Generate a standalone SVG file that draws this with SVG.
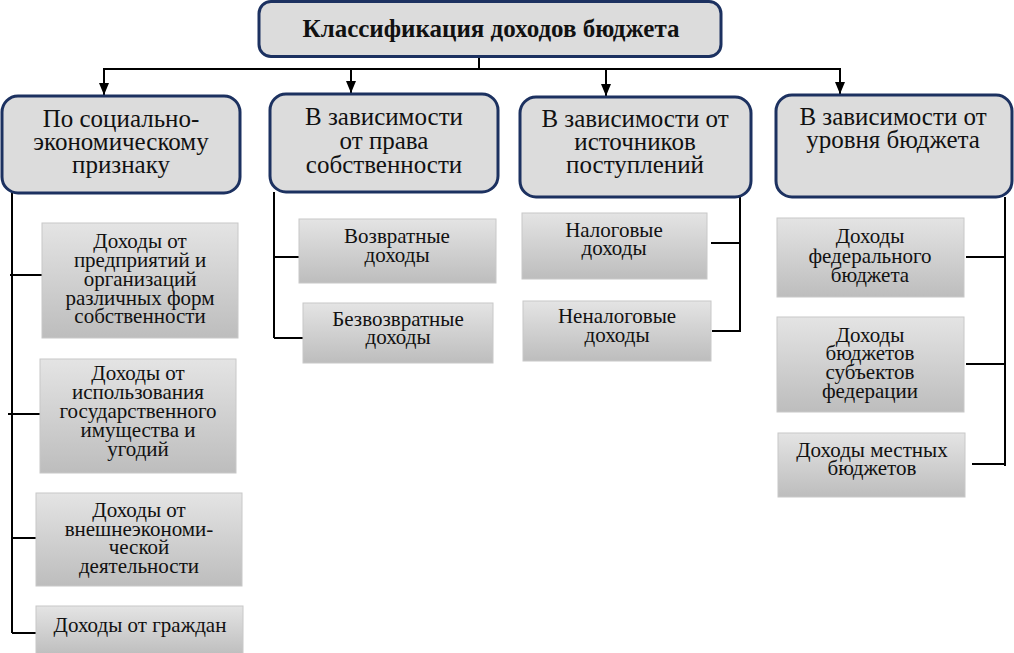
<svg xmlns="http://www.w3.org/2000/svg" width="1014" height="653" viewBox="0 0 1014 653">
<style>
.cat{fill:#DCDCDC;stroke:#1C3160;stroke-width:3}
.sub{fill:url(#g);stroke:#C8C8C8;stroke-width:1}
.t{font-family:"Liberation Serif","Times New Roman","DejaVu Serif",serif;fill:#111;text-anchor:middle}
.ct{font-size:25px}
.st{font-size:21px}
.tt{font-size:25px;font-weight:bold}
.ln{stroke:#000;stroke-width:2;fill:none}
</style>
<defs>
<linearGradient id="g" x1="0" y1="0" x2="0" y2="1">
<stop offset="0" stop-color="#E4E4E4"/>
<stop offset="1" stop-color="#BDBDBD"/>
</linearGradient>
<marker id="a" viewBox="0 0 12 10" refX="12" refY="5" markerWidth="12" markerHeight="10" markerUnits="userSpaceOnUse" orient="auto">
<path d="M0,0 L12,5 L0,10 Z" fill="#000"/>
</marker>
</defs>
<rect width="1014" height="653" fill="#fff"/>

<g id="connectors">
<path class="ln" d="M479,57 V69 M103,69 H841"/>
<path class="ln" d="M104,69 V95" marker-end="url(#a)"/>
<path class="ln" d="M351,69 V93" marker-end="url(#a)"/>
<path class="ln" d="M606,69 V96" marker-end="url(#a)"/>
<path class="ln" d="M840,69 V94" marker-end="url(#a)"/>
<path class="ln" d="M12,193 V633 M10,275 H42 M8,414 H40 M12,538 H36 M12,633 H37"/>
<path class="ln" d="M274,192 V338 M274,257 H300 M274,338 H304"/>
<path class="ln" d="M740,197 V332 M711,243 H740 M712,331 H740"/>
<path class="ln" d="M1005,197 V466 M966,257 H1005 M966,364 H1005 M972,464 H1005"/>
</g>

<g id="root">
<rect class="cat" x="259" y="1.5" width="462" height="55" rx="12"/>
<text class="t tt" x="491" y="37">Классификация доходов бюджета</text>
</g>

<g id="cat1">
<rect class="cat" x="2" y="96" width="238" height="97" rx="16"/>
<text class="t ct" x="121" y="127">По социально-</text>
<text class="t ct" x="121" y="150">экономическому</text>
<text class="t ct" x="121" y="173">признаку</text>
</g>
<g id="cat2">
<rect class="cat" x="270" y="94" width="228" height="98" rx="16"/>
<text class="t ct" x="384" y="125">В зависимости</text>
<text class="t ct" x="384" y="149">от права</text>
<text class="t ct" x="384" y="173">собственности</text>
</g>
<g id="cat3">
<rect class="cat" x="520" y="97" width="231" height="100" rx="16"/>
<text class="t ct" x="635" y="127">В зависимости от</text>
<text class="t ct" x="635" y="150">источников</text>
<text class="t ct" x="635" y="173">поступлений</text>
</g>
<g id="cat4">
<rect class="cat" x="776" y="95" width="236" height="102" rx="16"/>
<text class="t ct" x="893" y="125">В зависимости от</text>
<text class="t ct" x="893" y="148">уровня бюджета</text>
</g>

<g id="s1a">
<rect class="sub" x="42" y="223" width="196" height="115"/>
<text class="t st" x="140" y="248">Доходы от</text>
<text class="t st" x="140" y="267">предприятий и</text>
<text class="t st" x="140" y="286">организаций</text>
<text class="t st" x="140" y="305">различных форм</text>
<text class="t st" x="140" y="323">собственности</text>
</g>
<g id="s1b">
<rect class="sub" x="40" y="359" width="196" height="114"/>
<text class="t st" x="138" y="380">Доходы от</text>
<text class="t st" x="138" y="399">использования</text>
<text class="t st" x="138" y="418">государственного</text>
<text class="t st" x="138" y="437">имущества и</text>
<text class="t st" x="138" y="456">угодий</text>
</g>
<g id="s1c">
<rect class="sub" x="36" y="493" width="206" height="93"/>
<text class="t st" x="139" y="517">Доходы от</text>
<text class="t st" x="139" y="536">внешнеэкономи-</text>
<text class="t st" x="139" y="554">ческой</text>
<text class="t st" x="139" y="573">деятельности</text>
</g>
<g id="s1d">
<rect class="sub" x="36" y="606" width="207" height="50"/>
<text class="t st" x="140" y="632">Доходы от граждан</text>
</g>

<g id="s2a">
<rect class="sub" x="299" y="219" width="197" height="64"/>
<text class="t st" x="397" y="243">Возвратные</text>
<text class="t st" x="397" y="262">доходы</text>
</g>
<g id="s2b">
<rect class="sub" x="303" y="303" width="190" height="60"/>
<text class="t st" x="398" y="326">Безвозвратные</text>
<text class="t st" x="398" y="344">доходы</text>
</g>

<g id="s3a">
<rect class="sub" x="522" y="213" width="185" height="66"/>
<text class="t st" x="614" y="237">Налоговые</text>
<text class="t st" x="614" y="255">доходы</text>
</g>
<g id="s3b">
<rect class="sub" x="523" y="301" width="188" height="60"/>
<text class="t st" x="617" y="323">Неналоговые</text>
<text class="t st" x="617" y="342">доходы</text>
</g>

<g id="s4a">
<rect class="sub" x="777" y="218" width="187" height="79"/>
<text class="t st" x="870" y="243">Доходы</text>
<text class="t st" x="870" y="263">федерального</text>
<text class="t st" x="870" y="282">бюджета</text>
</g>
<g id="s4b">
<rect class="sub" x="777" y="317" width="187" height="95"/>
<text class="t st" x="870" y="342">Доходы</text>
<text class="t st" x="870" y="360">бюджетов</text>
<text class="t st" x="870" y="379">субъектов</text>
<text class="t st" x="870" y="398">федерации</text>
</g>
<g id="s4c">
<rect class="sub" x="778" y="433" width="187" height="64"/>
<text class="t st" x="872" y="457">Доходы местных</text>
<text class="t st" x="872" y="475">бюджетов</text>
</g>
</svg>
